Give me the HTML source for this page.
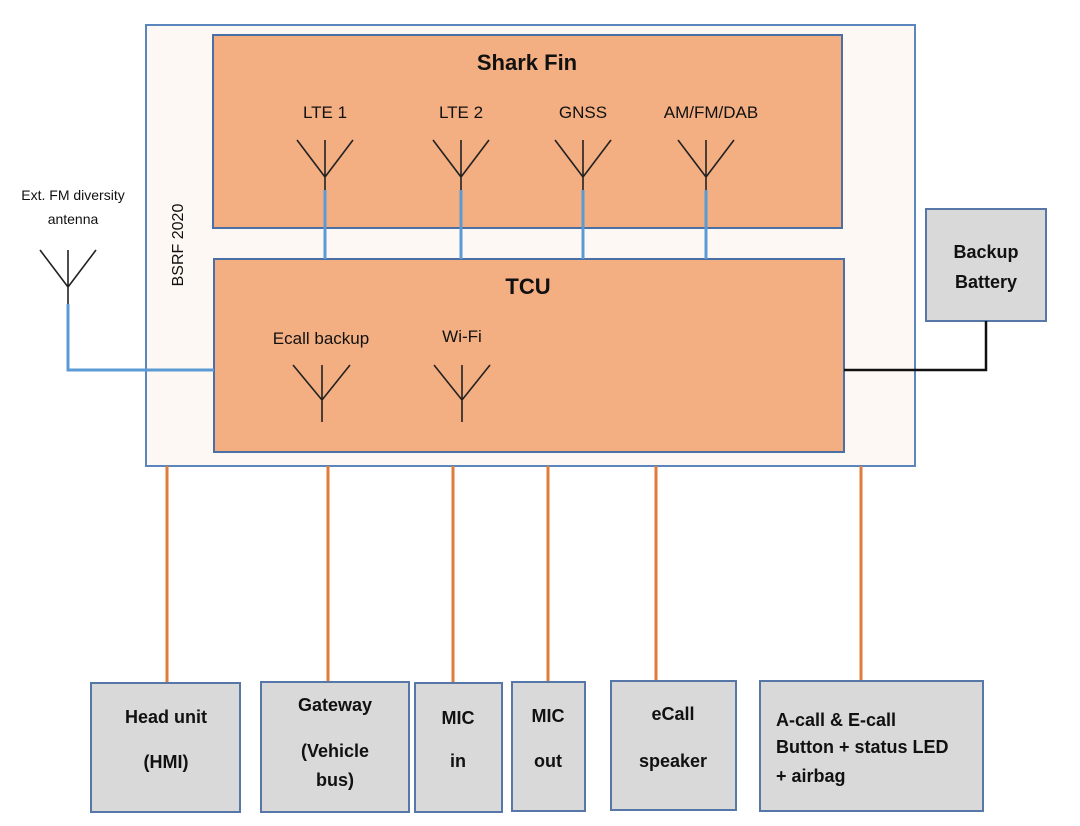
<!DOCTYPE html>
<html><head><meta charset="utf-8"><style>
html,body{margin:0;padding:0;background:#fff;}
svg{display:block;font-family:"Liberation Sans","Noto Sans CJK SC",sans-serif;}
</style></head><body>
<svg width="1080" height="826" viewBox="0 0 1080 826" xmlns="http://www.w3.org/2000/svg">
<rect x="146" y="25" width="769" height="441" fill="#fdf8f3" stroke="#5b86bd" stroke-width="2"/>
<rect x="213" y="35" width="629" height="193" fill="#f3ae82" stroke="#4a6fa5" stroke-width="2"/>
<rect x="214" y="259" width="630" height="193" fill="#f3ae82" stroke="#4a6fa5" stroke-width="2"/>
<rect x="926" y="209" width="120" height="112" fill="#d9d9d9" stroke="#5677a8" stroke-width="2"/>
<text x="527" y="70" font-size="22" font-weight="bold" text-anchor="middle" fill="#111">Shark Fin</text>
<text x="528" y="294" font-size="22" font-weight="bold" text-anchor="middle" fill="#111">TCU</text>
<g font-size="17" fill="#111" text-anchor="middle">
<text x="325" y="118">LTE 1</text>
<text x="461" y="118">LTE 2</text>
<text x="583" y="118">GNSS</text>
<text x="711" y="118">AM/FM/DAB</text>
<text x="321" y="344">Ecall backup</text>
<text x="462" y="342">Wi-Fi</text>
</g>
<g font-size="14" fill="#111" text-anchor="middle">
<text x="73" y="200">Ext. FM diversity</text>
<text x="73" y="224">antenna</text>
</g>
<text transform="translate(183,245) rotate(-90)" font-size="16" fill="#111" text-anchor="middle">BSRF 2020</text>
<g stroke="#5b9bd5" stroke-width="3" fill="none">
<line x1="325" y1="190" x2="325" y2="259"/>
<line x1="461" y1="190" x2="461" y2="259"/>
<line x1="583" y1="190" x2="583" y2="259"/>
<line x1="706" y1="190" x2="706" y2="259"/>
<polyline points="68,304 68,370 214,370"/>
</g>
<g stroke="#222" stroke-width="1.6" fill="none">
<path d="M297,140 L325,177 L353,140 M325,140 L325,190"/>
<path d="M433,140 L461,177 L489,140 M461,140 L461,190"/>
<path d="M555,140 L583,177 L611,140 M583,140 L583,190"/>
<path d="M678,140 L706,177 L734,140 M706,140 L706,190"/>
<path d="M40,250 L68,287 L96,250 M68,250 L68,304"/>
<path d="M293,365 L322,400 L350,365 M322,365 L322,422"/>
<path d="M434,365 L462,400 L490,365 M462,365 L462,422"/>
</g>
<polyline points="844,370 986,370 986,321" stroke="#111" stroke-width="2.5" fill="none"/>
<g stroke="#e07b39" stroke-width="3">
<line x1="167" y1="466" x2="167" y2="682"/>
<line x1="328" y1="466" x2="328" y2="681"/>
<line x1="453" y1="466" x2="453" y2="682"/>
<line x1="548" y1="466" x2="548" y2="681"/>
<line x1="656" y1="466" x2="656" y2="680"/>
<line x1="861" y1="466" x2="861" y2="680"/>
</g>
<g fill="#d9d9d9" stroke="#5677a8" stroke-width="2">
<rect x="91" y="683" width="149" height="129"/>
<rect x="261" y="682" width="148" height="130"/>
<rect x="415" y="683" width="87" height="129"/>
<rect x="512" y="682" width="73" height="129"/>
<rect x="611" y="681" width="125" height="129"/>
<rect x="760" y="681" width="223" height="130"/>
</g>
<g font-size="18" font-weight="bold" fill="#111" text-anchor="middle">
<text x="986" y="258">Backup</text>
<text x="986" y="288">Battery</text>
<text x="166" y="723">Head unit</text>
<text x="166" y="768">(HMI)</text>
<text x="335" y="711">Gateway</text>
<text x="335" y="757">(Vehicle</text>
<text x="335" y="786">bus)</text>
<text x="458" y="724">MIC</text>
<text x="458" y="767">in</text>
<text x="548" y="722">MIC</text>
<text x="548" y="767">out</text>
<text x="673" y="720">eCall</text>
<text x="673" y="767">speaker</text>
</g>
<g font-size="18" font-weight="bold" fill="#111">
<text x="776" y="726">A-call &amp; E-call</text>
<text x="776" y="753">Button + status LED</text>
<text x="776" y="782">+ airbag</text>
</g>
</svg>
</body></html>
